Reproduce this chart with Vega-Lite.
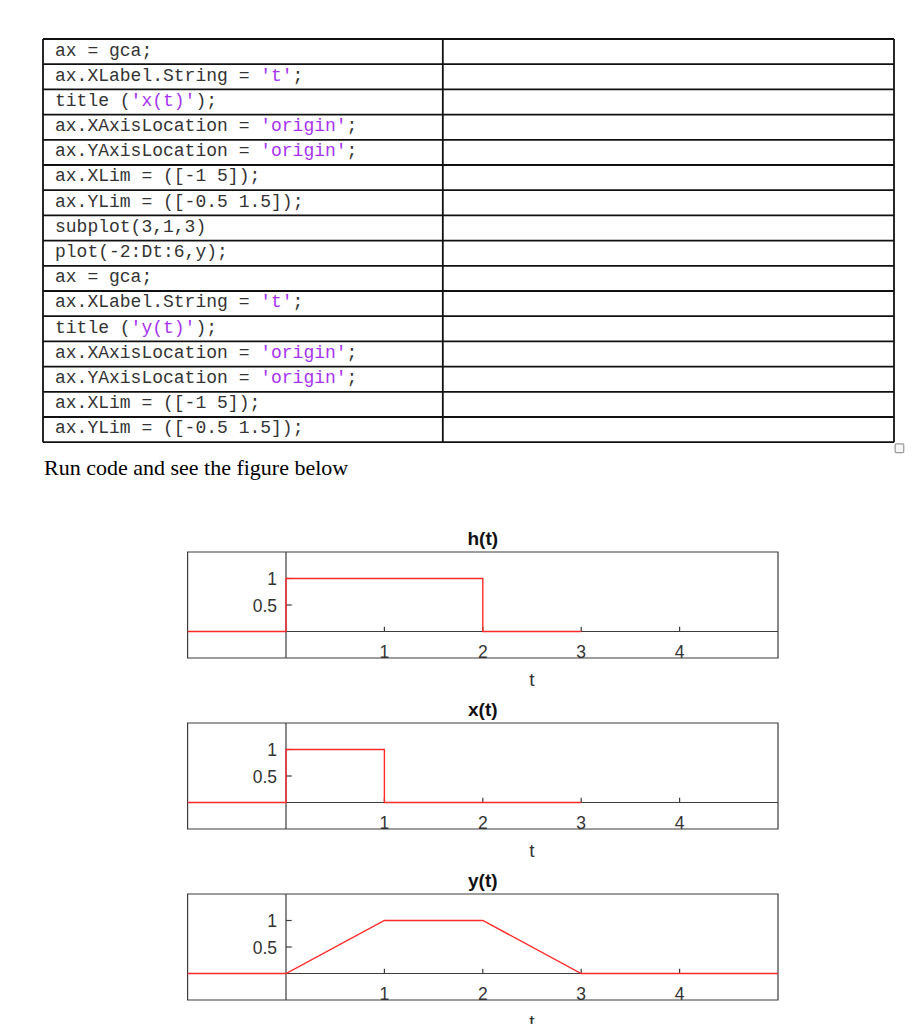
{
  "$schema": "https://vega.github.io/schema/vega-lite/v6.json",
  "padding": {"left": 42, "top": 38, "right": 0, "bottom": 0},
  "background": "white",
  "bounds": "flush",
  "spacing": 65,
  "config": {"view": {"stroke": null}},
  "resolve": {"scale": {"x": "independent", "y": "independent", "color": "independent"}},
  "datasets": {
    "one": [{}],
    "hl": [{"r":0},{"r":1},{"r":2},{"r":3},{"r":4},{"r":5},{"r":6},{"r":7},{"r":8},{"r":9},{"r":10},{"r":11},{"r":12},{"r":13},{"r":14},{"r":15},{"r":16}],
    "vl": [{"c":0},{"c":37.02},{"c":78.796}],
    "code": [
      {"row":0,"col":0,"seg":"ax = gca;","kind":"code"},
      {"row":1,"col":0,"seg":"ax.XLabel.String =","kind":"code"},
      {"row":1,"col":19,"seg":"'t'","kind":"string"},
      {"row":1,"col":22,"seg":";","kind":"code"},
      {"row":2,"col":0,"seg":"title (","kind":"code"},
      {"row":2,"col":7,"seg":"'x(t)'","kind":"string"},
      {"row":2,"col":13,"seg":");","kind":"code"},
      {"row":3,"col":0,"seg":"ax.XAxisLocation =","kind":"code"},
      {"row":3,"col":19,"seg":"'origin'","kind":"string"},
      {"row":3,"col":27,"seg":";","kind":"code"},
      {"row":4,"col":0,"seg":"ax.YAxisLocation =","kind":"code"},
      {"row":4,"col":19,"seg":"'origin'","kind":"string"},
      {"row":4,"col":27,"seg":";","kind":"code"},
      {"row":5,"col":0,"seg":"ax.XLim = ([-1 5]);","kind":"code"},
      {"row":6,"col":0,"seg":"ax.YLim = ([-0.5 1.5]);","kind":"code"},
      {"row":7,"col":0,"seg":"subplot(3,1,3)","kind":"code"},
      {"row":8,"col":0,"seg":"plot(-2:Dt:6,y);","kind":"code"},
      {"row":9,"col":0,"seg":"ax = gca;","kind":"code"},
      {"row":10,"col":0,"seg":"ax.XLabel.String =","kind":"code"},
      {"row":10,"col":19,"seg":"'t'","kind":"string"},
      {"row":10,"col":22,"seg":";","kind":"code"},
      {"row":11,"col":0,"seg":"title (","kind":"code"},
      {"row":11,"col":7,"seg":"'y(t)'","kind":"string"},
      {"row":11,"col":13,"seg":");","kind":"code"},
      {"row":12,"col":0,"seg":"ax.XAxisLocation =","kind":"code"},
      {"row":12,"col":19,"seg":"'origin'","kind":"string"},
      {"row":12,"col":27,"seg":";","kind":"code"},
      {"row":13,"col":0,"seg":"ax.YAxisLocation =","kind":"code"},
      {"row":13,"col":19,"seg":"'origin'","kind":"string"},
      {"row":13,"col":27,"seg":";","kind":"code"},
      {"row":14,"col":0,"seg":"ax.XLim = ([-1 5]);","kind":"code"},
      {"row":15,"col":0,"seg":"ax.YLim = ([-0.5 1.5]);","kind":"code"}
    ],
    "xticks": [{"t":1,"lab":"1"},{"t":2,"lab":"2"},{"t":3,"lab":"3"},{"t":4,"lab":"4"}],
    "yticks": [{"v":0.5,"lab":"0.5"},{"v":1,"lab":"1"}],
    "h": [{"i":0,"t":-1,"v":0},{"i":1,"t":0,"v":0},{"i":2,"t":0,"v":1},{"i":3,"t":2,"v":1},{"i":4,"t":2,"v":0},{"i":5,"t":3,"v":0}],
    "x": [{"i":0,"t":-1,"v":0},{"i":1,"t":0,"v":0},{"i":2,"t":0,"v":1},{"i":3,"t":1,"v":1},{"i":4,"t":1,"v":0},{"i":5,"t":3,"v":0}],
    "y": [{"i":0,"t":-1,"v":0},{"i":1,"t":0,"v":0},{"i":2,"t":1,"v":1},{"i":3,"t":2,"v":1},{"i":4,"t":3,"v":0},{"i":5,"t":5,"v":0}]
  },
  "vconcat": [
    {
      "width": 851, "height": 448,
      "layer": [
        {"data": {"name": "hl"}, "mark": {"type": "rule", "stroke": "#111111", "strokeWidth": 1.8},
         "encoding": {"x": {"datum": 0, "type": "quantitative", "scale": {"domain": [0, 78.796], "nice": false, "zero": false}, "axis": null}, "x2": {"datum": 78.796},
                      "y": {"field": "r", "type": "quantitative", "scale": {"domain": [0, 17.778], "nice": false, "zero": false, "reverse": true}, "axis": null}}},
        {"data": {"name": "vl"}, "mark": {"type": "rule", "stroke": "#111111", "strokeWidth": 1.8},
         "encoding": {"x": {"field": "c", "type": "quantitative", "scale": {"domain": [0, 78.796], "nice": false, "zero": false}, "axis": null},
                      "y": {"datum": 0, "type": "quantitative", "scale": {"domain": [0, 17.778], "nice": false, "zero": false, "reverse": true}, "axis": null}, "y2": {"datum": 16}}},
        {"data": {"name": "code"}, "mark": {"type": "text", "font": "Liberation Mono", "fontSize": 18, "align": "left", "baseline": "alphabetic", "dx": 12, "dy": 16.5},
         "encoding": {"x": {"field": "col", "type": "quantitative", "scale": {"domain": [0, 78.796], "nice": false, "zero": false}, "axis": null},
                      "y": {"field": "row", "type": "quantitative", "scale": {"domain": [0, 17.778], "nice": false, "zero": false, "reverse": true}, "axis": null},
                      "text": {"field": "seg"},
                      "color": {"field": "kind", "type": "nominal", "scale": {"domain": ["code", "string"], "range": ["#333333", "#a733f0"]}, "legend": null}}},
        {"data": {"name": "one"}, "mark": {"type": "text", "font": "Liberation Serif", "fontSize": 22, "align": "left", "baseline": "alphabetic", "fill": "#000000", "dx": 1},
         "encoding": {"x": {"datum": 0, "type": "quantitative", "scale": {"domain": [0, 78.796], "nice": false, "zero": false}, "axis": null},
                      "y": {"datum": 17.3, "type": "quantitative", "scale": {"domain": [0, 17.778], "nice": false, "zero": false, "reverse": true}, "axis": null},
                      "text": {"value": "Run code and see the figure below"}}},
        {"data": {"name": "one"}, "mark": {"type": "rect", "fill": "#f6f6f6", "stroke": "#9a9a9a", "strokeWidth": 1.2, "cornerRadius": 1},
         "encoding": {"x": {"datum": 78.9, "type": "quantitative", "scale": {"domain": [0, 78.796], "nice": false, "zero": false}, "axis": null}, "x2": {"datum": 79.7},
                      "y": {"datum": 16.07, "type": "quantitative", "scale": {"domain": [0, 17.778], "nice": false, "zero": false, "reverse": true}, "axis": null}, "y2": {"datum": 16.41}}}
      ]
    },
    {
      "width": 735, "height": 106,
      "layer": [
        {"data": {"name": "one"}, "mark": {"type": "rect", "fill": "#ffffff", "fillOpacity": 0, "stroke": "#3c3c3c", "strokeWidth": 1.2},
         "encoding": {"x": {"datum": -1, "type": "quantitative", "scale": {"domain": [-2.4695, 5], "nice": false, "zero": false}, "axis": null}, "x2": {"datum": 5},
                      "y": {"datum": -0.5, "type": "quantitative", "scale": {"domain": [-0.5, 1.5], "nice": false, "zero": false}, "axis": null}, "y2": {"datum": 1.5}}},
        {"data": {"name": "one"}, "mark": {"type": "rule", "stroke": "#3c3c3c", "strokeWidth": 1.2},
         "encoding": {"x": {"datum": -1, "type": "quantitative", "scale": {"domain": [-2.4695, 5], "nice": false, "zero": false}, "axis": null}, "x2": {"datum": 5},
                      "y": {"datum": 0, "type": "quantitative", "scale": {"domain": [-0.5, 1.5], "nice": false, "zero": false}, "axis": null}}},
        {"data": {"name": "one"}, "mark": {"type": "rule", "stroke": "#3c3c3c", "strokeWidth": 1.2},
         "encoding": {"x": {"datum": 0, "type": "quantitative", "scale": {"domain": [-2.4695, 5], "nice": false, "zero": false}, "axis": null},
                      "y": {"datum": -0.5, "type": "quantitative", "scale": {"domain": [-0.5, 1.5], "nice": false, "zero": false}, "axis": null}, "y2": {"datum": 1.5}}},
        {"data": {"name": "xticks"}, "mark": {"type": "rule", "stroke": "#3c3c3c", "strokeWidth": 1.2},
         "encoding": {"x": {"field": "t", "type": "quantitative", "scale": {"domain": [-2.4695, 5], "nice": false, "zero": false}, "axis": null},
                      "y": {"datum": 0, "type": "quantitative", "scale": {"domain": [-0.5, 1.5], "nice": false, "zero": false}, "axis": null}, "y2": {"datum": 0.09}}},
        {"data": {"name": "yticks"}, "mark": {"type": "rule", "stroke": "#3c3c3c", "strokeWidth": 1.2},
         "encoding": {"x": {"datum": 0, "type": "quantitative", "scale": {"domain": [-2.4695, 5], "nice": false, "zero": false}, "axis": null}, "x2": {"datum": 0.058},
                      "y": {"field": "v", "type": "quantitative", "scale": {"domain": [-0.5, 1.5], "nice": false, "zero": false}, "axis": null}}},
        {"data": {"name": "xticks"}, "mark": {"type": "text", "font": "Liberation Sans", "fontSize": 17.5, "fill": "#333333", "align": "center", "baseline": "alphabetic"},
         "encoding": {"x": {"field": "t", "type": "quantitative", "scale": {"domain": [-2.4695, 5], "nice": false, "zero": false}, "axis": null},
                      "y": {"datum": -0.5, "type": "quantitative", "scale": {"domain": [-0.5, 1.5], "nice": false, "zero": false}, "axis": null}, "text": {"field": "lab"}}},
        {"data": {"name": "yticks"}, "mark": {"type": "text", "font": "Liberation Sans", "fontSize": 17.5, "fill": "#333333", "align": "right", "baseline": "middle", "dx": -9, "dy": 1.5},
         "encoding": {"x": {"datum": 0, "type": "quantitative", "scale": {"domain": [-2.4695, 5], "nice": false, "zero": false}, "axis": null},
                      "y": {"field": "v", "type": "quantitative", "scale": {"domain": [-0.5, 1.5], "nice": false, "zero": false}, "axis": null}, "text": {"field": "lab"}}},
        {"data": {"name": "h"}, "mark": {"type": "line", "stroke": "#ff2a2a", "strokeWidth": 1.4},
         "encoding": {"x": {"field": "t", "type": "quantitative", "scale": {"domain": [-2.4695, 5], "nice": false, "zero": false}, "axis": null},
                      "y": {"field": "v", "type": "quantitative", "scale": {"domain": [-0.5, 1.5], "nice": false, "zero": false}, "axis": null}, "order": {"field": "i"}}},
        {"data": {"name": "one"}, "mark": {"type": "text", "font": "Liberation Sans", "fontSize": 19, "fontWeight": "bold", "fill": "#111111", "align": "center", "baseline": "alphabetic", "dy": -7},
         "encoding": {"x": {"datum": 2, "type": "quantitative", "scale": {"domain": [-2.4695, 5], "nice": false, "zero": false}, "axis": null},
                      "y": {"datum": 1.5, "type": "quantitative", "scale": {"domain": [-0.5, 1.5], "nice": false, "zero": false}, "axis": null}, "text": {"value": "h(t)"}}},
        {"data": {"name": "one"}, "mark": {"type": "text", "font": "Liberation Sans", "fontSize": 19, "fill": "#333333", "align": "center", "baseline": "alphabetic", "dy": 28},
         "encoding": {"x": {"datum": 2.5, "type": "quantitative", "scale": {"domain": [-2.4695, 5], "nice": false, "zero": false}, "axis": null},
                      "y": {"datum": -0.5, "type": "quantitative", "scale": {"domain": [-0.5, 1.5], "nice": false, "zero": false}, "axis": null}, "text": {"value": "t"}}}
      ]
    },
    {
      "width": 735, "height": 106,
      "layer": [
        {"data": {"name": "one"}, "mark": {"type": "rect", "fill": "#ffffff", "fillOpacity": 0, "stroke": "#3c3c3c", "strokeWidth": 1.2},
         "encoding": {"x": {"datum": -1, "type": "quantitative", "scale": {"domain": [-2.4695, 5], "nice": false, "zero": false}, "axis": null}, "x2": {"datum": 5},
                      "y": {"datum": -0.5, "type": "quantitative", "scale": {"domain": [-0.5, 1.5], "nice": false, "zero": false}, "axis": null}, "y2": {"datum": 1.5}}},
        {"data": {"name": "one"}, "mark": {"type": "rule", "stroke": "#3c3c3c", "strokeWidth": 1.2},
         "encoding": {"x": {"datum": -1, "type": "quantitative", "scale": {"domain": [-2.4695, 5], "nice": false, "zero": false}, "axis": null}, "x2": {"datum": 5},
                      "y": {"datum": 0, "type": "quantitative", "scale": {"domain": [-0.5, 1.5], "nice": false, "zero": false}, "axis": null}}},
        {"data": {"name": "one"}, "mark": {"type": "rule", "stroke": "#3c3c3c", "strokeWidth": 1.2},
         "encoding": {"x": {"datum": 0, "type": "quantitative", "scale": {"domain": [-2.4695, 5], "nice": false, "zero": false}, "axis": null},
                      "y": {"datum": -0.5, "type": "quantitative", "scale": {"domain": [-0.5, 1.5], "nice": false, "zero": false}, "axis": null}, "y2": {"datum": 1.5}}},
        {"data": {"name": "xticks"}, "mark": {"type": "rule", "stroke": "#3c3c3c", "strokeWidth": 1.2},
         "encoding": {"x": {"field": "t", "type": "quantitative", "scale": {"domain": [-2.4695, 5], "nice": false, "zero": false}, "axis": null},
                      "y": {"datum": 0, "type": "quantitative", "scale": {"domain": [-0.5, 1.5], "nice": false, "zero": false}, "axis": null}, "y2": {"datum": 0.09}}},
        {"data": {"name": "yticks"}, "mark": {"type": "rule", "stroke": "#3c3c3c", "strokeWidth": 1.2},
         "encoding": {"x": {"datum": 0, "type": "quantitative", "scale": {"domain": [-2.4695, 5], "nice": false, "zero": false}, "axis": null}, "x2": {"datum": 0.058},
                      "y": {"field": "v", "type": "quantitative", "scale": {"domain": [-0.5, 1.5], "nice": false, "zero": false}, "axis": null}}},
        {"data": {"name": "xticks"}, "mark": {"type": "text", "font": "Liberation Sans", "fontSize": 17.5, "fill": "#333333", "align": "center", "baseline": "alphabetic"},
         "encoding": {"x": {"field": "t", "type": "quantitative", "scale": {"domain": [-2.4695, 5], "nice": false, "zero": false}, "axis": null},
                      "y": {"datum": -0.5, "type": "quantitative", "scale": {"domain": [-0.5, 1.5], "nice": false, "zero": false}, "axis": null}, "text": {"field": "lab"}}},
        {"data": {"name": "yticks"}, "mark": {"type": "text", "font": "Liberation Sans", "fontSize": 17.5, "fill": "#333333", "align": "right", "baseline": "middle", "dx": -9, "dy": 1.5},
         "encoding": {"x": {"datum": 0, "type": "quantitative", "scale": {"domain": [-2.4695, 5], "nice": false, "zero": false}, "axis": null},
                      "y": {"field": "v", "type": "quantitative", "scale": {"domain": [-0.5, 1.5], "nice": false, "zero": false}, "axis": null}, "text": {"field": "lab"}}},
        {"data": {"name": "x"}, "mark": {"type": "line", "stroke": "#ff2a2a", "strokeWidth": 1.4},
         "encoding": {"x": {"field": "t", "type": "quantitative", "scale": {"domain": [-2.4695, 5], "nice": false, "zero": false}, "axis": null},
                      "y": {"field": "v", "type": "quantitative", "scale": {"domain": [-0.5, 1.5], "nice": false, "zero": false}, "axis": null}, "order": {"field": "i"}}},
        {"data": {"name": "one"}, "mark": {"type": "text", "font": "Liberation Sans", "fontSize": 19, "fontWeight": "bold", "fill": "#111111", "align": "center", "baseline": "alphabetic", "dy": -7},
         "encoding": {"x": {"datum": 2, "type": "quantitative", "scale": {"domain": [-2.4695, 5], "nice": false, "zero": false}, "axis": null},
                      "y": {"datum": 1.5, "type": "quantitative", "scale": {"domain": [-0.5, 1.5], "nice": false, "zero": false}, "axis": null}, "text": {"value": "x(t)"}}},
        {"data": {"name": "one"}, "mark": {"type": "text", "font": "Liberation Sans", "fontSize": 19, "fill": "#333333", "align": "center", "baseline": "alphabetic", "dy": 28},
         "encoding": {"x": {"datum": 2.5, "type": "quantitative", "scale": {"domain": [-2.4695, 5], "nice": false, "zero": false}, "axis": null},
                      "y": {"datum": -0.5, "type": "quantitative", "scale": {"domain": [-0.5, 1.5], "nice": false, "zero": false}, "axis": null}, "text": {"value": "t"}}}
      ]
    },
    {
      "width": 735, "height": 106,
      "layer": [
        {"data": {"name": "one"}, "mark": {"type": "rect", "fill": "#ffffff", "fillOpacity": 0, "stroke": "#3c3c3c", "strokeWidth": 1.2},
         "encoding": {"x": {"datum": -1, "type": "quantitative", "scale": {"domain": [-2.4695, 5], "nice": false, "zero": false}, "axis": null}, "x2": {"datum": 5},
                      "y": {"datum": -0.5, "type": "quantitative", "scale": {"domain": [-0.5, 1.5], "nice": false, "zero": false}, "axis": null}, "y2": {"datum": 1.5}}},
        {"data": {"name": "one"}, "mark": {"type": "rule", "stroke": "#3c3c3c", "strokeWidth": 1.2},
         "encoding": {"x": {"datum": -1, "type": "quantitative", "scale": {"domain": [-2.4695, 5], "nice": false, "zero": false}, "axis": null}, "x2": {"datum": 5},
                      "y": {"datum": 0, "type": "quantitative", "scale": {"domain": [-0.5, 1.5], "nice": false, "zero": false}, "axis": null}}},
        {"data": {"name": "one"}, "mark": {"type": "rule", "stroke": "#3c3c3c", "strokeWidth": 1.2},
         "encoding": {"x": {"datum": 0, "type": "quantitative", "scale": {"domain": [-2.4695, 5], "nice": false, "zero": false}, "axis": null},
                      "y": {"datum": -0.5, "type": "quantitative", "scale": {"domain": [-0.5, 1.5], "nice": false, "zero": false}, "axis": null}, "y2": {"datum": 1.5}}},
        {"data": {"name": "xticks"}, "mark": {"type": "rule", "stroke": "#3c3c3c", "strokeWidth": 1.2},
         "encoding": {"x": {"field": "t", "type": "quantitative", "scale": {"domain": [-2.4695, 5], "nice": false, "zero": false}, "axis": null},
                      "y": {"datum": 0, "type": "quantitative", "scale": {"domain": [-0.5, 1.5], "nice": false, "zero": false}, "axis": null}, "y2": {"datum": 0.09}}},
        {"data": {"name": "yticks"}, "mark": {"type": "rule", "stroke": "#3c3c3c", "strokeWidth": 1.2},
         "encoding": {"x": {"datum": 0, "type": "quantitative", "scale": {"domain": [-2.4695, 5], "nice": false, "zero": false}, "axis": null}, "x2": {"datum": 0.058},
                      "y": {"field": "v", "type": "quantitative", "scale": {"domain": [-0.5, 1.5], "nice": false, "zero": false}, "axis": null}}},
        {"data": {"name": "xticks"}, "mark": {"type": "text", "font": "Liberation Sans", "fontSize": 17.5, "fill": "#333333", "align": "center", "baseline": "alphabetic"},
         "encoding": {"x": {"field": "t", "type": "quantitative", "scale": {"domain": [-2.4695, 5], "nice": false, "zero": false}, "axis": null},
                      "y": {"datum": -0.5, "type": "quantitative", "scale": {"domain": [-0.5, 1.5], "nice": false, "zero": false}, "axis": null}, "text": {"field": "lab"}}},
        {"data": {"name": "yticks"}, "mark": {"type": "text", "font": "Liberation Sans", "fontSize": 17.5, "fill": "#333333", "align": "right", "baseline": "middle", "dx": -9, "dy": 1.5},
         "encoding": {"x": {"datum": 0, "type": "quantitative", "scale": {"domain": [-2.4695, 5], "nice": false, "zero": false}, "axis": null},
                      "y": {"field": "v", "type": "quantitative", "scale": {"domain": [-0.5, 1.5], "nice": false, "zero": false}, "axis": null}, "text": {"field": "lab"}}},
        {"data": {"name": "y"}, "mark": {"type": "line", "stroke": "#ff2a2a", "strokeWidth": 1.4},
         "encoding": {"x": {"field": "t", "type": "quantitative", "scale": {"domain": [-2.4695, 5], "nice": false, "zero": false}, "axis": null},
                      "y": {"field": "v", "type": "quantitative", "scale": {"domain": [-0.5, 1.5], "nice": false, "zero": false}, "axis": null}, "order": {"field": "i"}}},
        {"data": {"name": "one"}, "mark": {"type": "text", "font": "Liberation Sans", "fontSize": 19, "fontWeight": "bold", "fill": "#111111", "align": "center", "baseline": "alphabetic", "dy": -7},
         "encoding": {"x": {"datum": 2, "type": "quantitative", "scale": {"domain": [-2.4695, 5], "nice": false, "zero": false}, "axis": null},
                      "y": {"datum": 1.5, "type": "quantitative", "scale": {"domain": [-0.5, 1.5], "nice": false, "zero": false}, "axis": null}, "text": {"value": "y(t)"}}},
        {"data": {"name": "one"}, "mark": {"type": "text", "font": "Liberation Sans", "fontSize": 19, "fill": "#333333", "align": "center", "baseline": "alphabetic", "dy": 28},
         "encoding": {"x": {"datum": 2.5, "type": "quantitative", "scale": {"domain": [-2.4695, 5], "nice": false, "zero": false}, "axis": null},
                      "y": {"datum": -0.5, "type": "quantitative", "scale": {"domain": [-0.5, 1.5], "nice": false, "zero": false}, "axis": null}, "text": {"value": "t"}}}
      ]
    }
  ]
}
